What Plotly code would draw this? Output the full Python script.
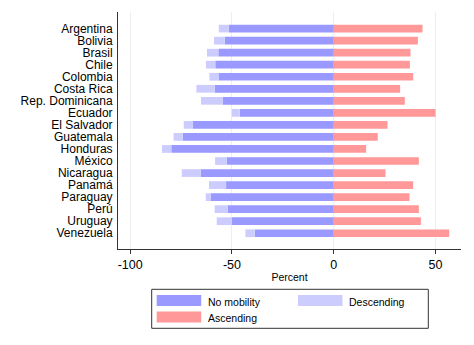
import plotly.graph_objects as go

countries = ["Argentina", "Bolivia", "Brasil", "Chile", "Colombia", "Costa Rica",
             "Rep. Dominicana", "Ecuador", "El Salvador", "Guatemala", "Honduras",
             "México", "Nicaragua", "Panamá", "Paraguay", "Perú", "Uruguay", "Venezuela"]
no_mobility = [51.6, 53.6, 56.7, 58.2, 56.4, 58.5, 54.6, 46.2, 69.2, 74.2, 79.8,
               52.6, 65.4, 52.9, 60.5, 52.1, 50.1, 38.8]
descending = [4.9, 5.2, 5.6, 4.6, 4.7, 9.0, 10.6, 3.9, 4.5, 4.5, 4.6,
              5.7, 9.3, 8.4, 2.4, 6.4, 7.4, 4.6]
ascending = [43.6, 41.3, 37.7, 37.4, 39.0, 32.6, 34.9, 50.0, 26.4, 21.6, 15.9,
             41.8, 25.4, 39.0, 37.2, 41.8, 42.8, 56.7]
x_ticks = [-100, -50, 0, 50]

C_NO = "#9999FF"
C_DESC = "#CCCCFF"
C_ASC = "#FF9999"
FONT = "Liberation Sans, Arial, sans-serif"

fig = go.Figure()
fig.add_trace(go.Bar(y=countries, x=[-v for v in no_mobility], orientation="h",
                     marker=dict(color=C_NO, line=dict(width=0)), name="No mobility", width=0.64))
fig.add_trace(go.Bar(y=countries, x=[-v for v in descending], orientation="h",
                     marker=dict(color=C_DESC, line=dict(width=0)), name="Descending", width=0.64))
fig.add_trace(go.Bar(y=countries, x=ascending, orientation="h",
                     marker=dict(color=C_ASC, line=dict(width=0)), name="Ascending", width=0.64))

L, R, T, B = 118, 13, 12, 96
W, H = 474, 345
pw, ph = W - L - R, H - T - B

def px(x):
    return (x - L) / pw

def py(y):
    return (H - B - y) / ph

shapes = []
annotations = []
# legend box
shapes.append(dict(type="rect", xref="paper", yref="paper",
                   x0=px(151.7), x1=px(428.3), y0=py(328.3), y1=py(289.3),
                   line=dict(color="#333333", width=1), fillcolor="white"))
legend_items = [("No mobility", C_NO, 156.7, 300.5), ("Descending", C_DESC, 298, 300.5),
                ("Ascending", C_ASC, 156.7, 317)]
for label, col, x0, yc in legend_items:
    shapes.append(dict(type="rect", xref="paper", yref="paper",
                       x0=px(x0), x1=px(x0 + 44.5), y0=py(yc + 5.5), y1=py(yc - 5.5),
                       line=dict(width=0), fillcolor=col))
    annotations.append(dict(xref="paper", yref="paper", x=px(x0 + 49), y=py(yc + 1),
                            text=label, showarrow=False, xanchor="left", yanchor="middle",
                            font=dict(family=FONT, size=10.5, color="black")))

fig.update_layout(
    width=W, height=H,
    margin=dict(l=L, r=R, t=T, b=B),
    barmode="relative",
    plot_bgcolor="white", paper_bgcolor="white",
    showlegend=False,
    font=dict(family=FONT, color="black"),
    shapes=shapes,
    annotations=annotations,
    xaxis=dict(range=[-106, 62.5], tickvals=x_ticks, ticktext=[str(v) for v in x_ticks],
               showgrid=True, gridcolor="#eeeeee", gridwidth=1, zeroline=False,
               showline=True, linecolor="#333333", linewidth=1,
               ticks="outside", ticklen=4, tickcolor="#333333",
               tickfont=dict(size=12.5, family=FONT),
               title=dict(text="Percent", font=dict(size=10.5, family=FONT), standoff=2)),
    yaxis=dict(categoryorder="array", categoryarray=countries, autorange=False,
               range=[18.31, -1.38], tickmode="array", tickvals=countries, ticktext=countries,
               showgrid=False, zeroline=False, showline=True, linecolor="#333333", linewidth=1,
               ticks="", tickfont=dict(size=12, family=FONT), ticklabelstandoff=2),
)

fig.write_html("out.html")
